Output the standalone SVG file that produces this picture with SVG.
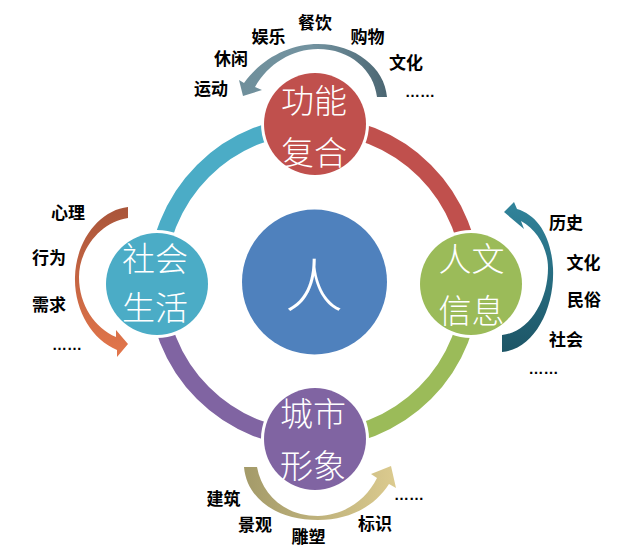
<svg xmlns="http://www.w3.org/2000/svg" width="629" height="557" viewBox="0 0 629 557">
<style>
.lbl{font-family:"Noto Sans CJK SC","Liberation Sans",sans-serif;font-size:17px;font-weight:bold;fill:#000;text-anchor:middle;dominant-baseline:central}
.dots{font-family:"Liberation Sans",sans-serif;font-size:15px;font-weight:bold;fill:#000;text-anchor:middle}
.nt{font-family:"Noto Sans CJK SC","Liberation Sans",sans-serif;font-size:33px;font-weight:300;fill:#fff;text-anchor:middle;dominant-baseline:central}
.ring{fill:none;stroke-width:17}
.halo{fill:#fff}
</style>
<defs>
<linearGradient id="gTop" gradientUnits="userSpaceOnUse" x1="238" y1="0" x2="387" y2="0">
<stop offset="0" stop-color="#6f8f9b"/><stop offset="0.5" stop-color="#7393a0"/><stop offset="1" stop-color="#4b6672"/>
</linearGradient>
<linearGradient id="gRight" gradientUnits="userSpaceOnUse" x1="0" y1="202" x2="0" y2="352">
<stop offset="0" stop-color="#31849b"/><stop offset="1" stop-color="#1d5566"/>
</linearGradient>
<linearGradient id="gLeft" gradientUnits="userSpaceOnUse" x1="0" y1="207" x2="0" y2="357">
<stop offset="0" stop-color="#a9553a"/><stop offset="1" stop-color="#e3764b"/>
</linearGradient>
<linearGradient id="gBottom" gradientUnits="userSpaceOnUse" x1="244" y1="0" x2="397" y2="0">
<stop offset="0" stop-color="#a39a69"/><stop offset="1" stop-color="#dccb8f"/>
</linearGradient>
</defs>

<g id="connectors">
<path class="ring" stroke="#4bacc6" d="M157,282 A157,157 0 0 1 314,125"/>
<path class="ring" stroke="#c0504d" d="M314,125 A157,157 0 0 1 471,282"/>
<path class="ring" stroke="#9bbb59" d="M471,282 A157,157 0 0 1 314,439"/>
<path class="ring" stroke="#8064a2" d="M314,439 A157,157 0 0 1 157,282"/>
<path id="arrow-top" fill="url(#gTop)" d="M387,97 C385,68 355,44 318,44 C290,44 262,58 244,83 L239,80 L243,96 L262,90 L255,87 C268,64 292,49 318,49 C350,49 374,70 377,97 Z"/>
<path id="arrow-right" fill="url(#gRight)" d="M502,352 C533,350 555,310 553,268 C551,235 537,215 517,209 L514,202 L504,212 L524,229 L521,221 C538,230 548,250 548,268 C548,300 530,332 502,335 Z"/>
<path id="arrow-left" fill="url(#gLeft)" d="M128,207 L128,218 C100,222 79,250 79,277 C79,305 95,328 116,337 L116,330 L128,344 L117,357 L117,350 C92,340 74,310 75,277 C76,240 100,210 128,207 Z"/>
<path id="arrow-bottom" fill="url(#gBottom)" d="M244,467 C247,500 278,520 318,520 C350,520 375,506 389,484 L396,488 L391,466 L371,474 L377,478 C366,500 345,515 318,516 C285,516 262,495 257,467 Z"/>
</g>

<g id="node-center">
<circle cx="314.5" cy="282" r="72.5" fill="#4f81bd"/>
<text x="314" y="282" class="nt" style="font-size:58px">人</text>
</g>

<g id="node-top">
<circle class="halo" cx="315" cy="124" r="54"/>
<circle cx="315" cy="124" r="51" fill="#c0504d"/>
<text x="314" y="99" class="nt">功能</text>
<text x="314" y="151" class="nt">复合</text>
</g>

<g id="node-right">
<circle class="halo" cx="471" cy="284" r="54"/>
<circle cx="471" cy="284" r="51" fill="#9bbb59"/>
<text x="471.5" y="257" class="nt">人文</text>
<text x="471.5" y="309" class="nt">信息</text>
</g>

<g id="node-bottom">
<circle class="halo" cx="315" cy="439" r="54"/>
<circle cx="315" cy="439" r="51" fill="#8064a2"/>
<text x="313" y="412" class="nt">城市</text>
<text x="313" y="464" class="nt">形象</text>
</g>

<g id="node-left">
<circle class="halo" cx="157" cy="284" r="54"/>
<circle cx="157" cy="284" r="51" fill="#4bacc6"/>
<text x="155" y="257" class="nt">社会</text>
<text x="155" y="306" class="nt">生活</text>
</g>

<g id="labels-top">
<text x="315" y="21" class="lbl">餐饮</text>
<text x="268.5" y="35" class="lbl">娱乐</text>
<text x="367.5" y="35.5" class="lbl">购物</text>
<text x="231" y="57.5" class="lbl">休闲</text>
<text x="406" y="61" class="lbl">文化</text>
<text x="211" y="87" class="lbl">运动</text>
<text x="420" y="97" class="dots">……</text>
</g>

<g id="labels-right">
<text x="566" y="221" class="lbl">历史</text>
<text x="583.5" y="261" class="lbl">文化</text>
<text x="584" y="298" class="lbl">民俗</text>
<text x="566" y="338" class="lbl">社会</text>
<text x="543.5" y="374" class="dots">……</text>
</g>

<g id="labels-left">
<text x="68" y="211" class="lbl">心理</text>
<text x="49" y="256" class="lbl">行为</text>
<text x="49" y="303" class="lbl">需求</text>
<text x="67" y="350" class="dots">……</text>
</g>

<g id="labels-bottom">
<text x="223.5" y="497" class="lbl">建筑</text>
<text x="255" y="523" class="lbl">景观</text>
<text x="308.5" y="535" class="lbl">雕塑</text>
<text x="375" y="522" class="lbl">标识</text>
<text x="409" y="500" class="dots">……</text>
</g>
</svg>
